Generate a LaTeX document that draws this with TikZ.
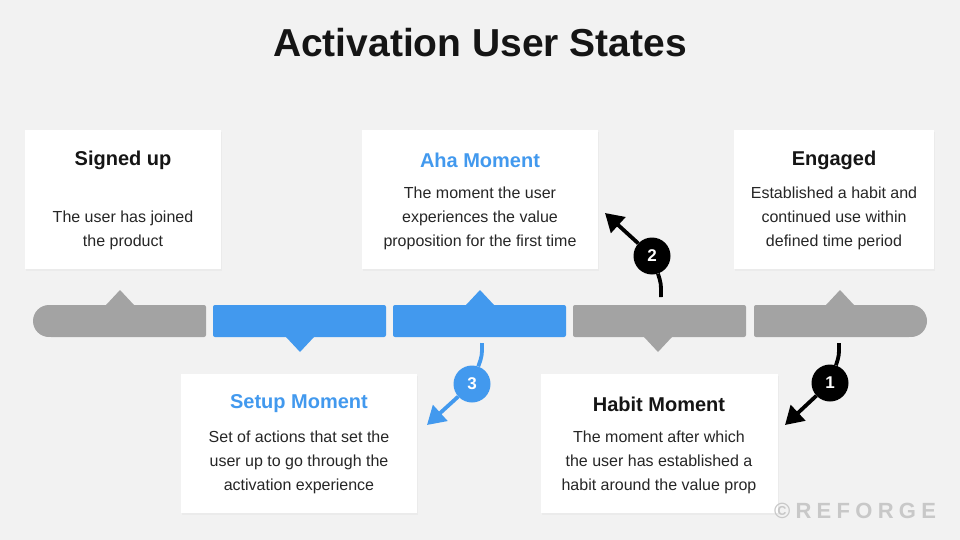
\documentclass[tikz,border=0pt]{standalone}
\usepackage{fontspec}
\setmainfont{Liberation Sans}
\newfontfamily\markfont[LetterSpace=24]{Liberation Sans}
\usetikzlibrary{arrows.meta,positioning,calc,shadows}

\definecolor{bg}{HTML}{F2F2F2}
\definecolor{actblue}{HTML}{4299EE}
\definecolor{bargray}{HTML}{A3A3A3}
\definecolor{darktext}{HTML}{151515}
\definecolor{bodytext}{HTML}{262626}
\definecolor{markgray}{HTML}{C8C8C8}

\begin{document}
\begin{tikzpicture}[x=1pt, y=-1pt,
	card/.style={fill=white, inner sep=0, anchor=north west, minimum width=#1, minimum height=139pt,
		drop shadow={opacity=0.06, shadow xshift=1pt, shadow yshift=-1.5pt}},
	cardtitle/.style={font=\bfseries\fontsize{20}{24}\selectfont, text=darktext, inner sep=0},
	cardtext/.style={font=\fontsize{16}{24}\selectfont, text=bodytext, align=center, inner sep=0},
	badge/.style={circle, fill=#1, text=white, font=\bfseries\fontsize{17}{17}\selectfont, minimum size=37pt, inner sep=0},
	pointer/.style={line width=3.8pt, -{Triangle[length=18pt, width=21pt]}},
]

	%Hintergrund
	\fill[bg] (0,0) rectangle (960,540);
	\useasboundingbox (0,0) rectangle (960,540);

	%Titel
	\node[font=\bfseries\fontsize{39}{44}\selectfont, text=darktext] (title) at (480,43) {Activation User States};

	%Zeitleiste
	\fill[bargray] (49,321) circle (16pt);
	\fill[bargray, rounded corners=2pt] (49,305) rectangle (206,337);
	\fill[bargray] (106,305) -- (120,290) -- (134,305) -- cycle;
	\fill[actblue, rounded corners=2pt] (213,305) rectangle (386,337);
	\fill[actblue] (286,337) -- (300,352) -- (314,337) -- cycle;
	\fill[actblue, rounded corners=2pt] (393,305) rectangle (566,337);
	\fill[actblue] (466,305) -- (480,290) -- (494,305) -- cycle;
	\fill[bargray, rounded corners=2pt] (573,305) rectangle (746,337);
	\fill[bargray] (644,337) -- (658,352) -- (672,337) -- cycle;
	\fill[bargray, rounded corners=2pt] (754,305) rectangle (911,337);
	\fill[bargray] (911,321) circle (16pt);
	\fill[bargray] (826,305) -- (840,290) -- (854,305) -- cycle;

	%Karten oben
	\node[card=196pt] (signed) at (25,130) {};
	\node[cardtitle] (signedT) at (123,160) {Signed up};
	\node[cardtext] (signedB) at (123,230) {The user has joined\\the product};

	\node[card=236pt] (aha) at (362,130) {};
	\node[cardtitle, text=actblue] (ahaT) at (480,160) {Aha Moment};
	\node[cardtext] (ahaB) at (480,218) {The moment the user\\experiences the value\\proposition for the first time};

	\node[card=200pt] (engaged) at (734,130) {};
	\node[cardtitle] (engagedT) at (834,160) {Engaged};
	\node[cardtext] (engagedB) at (834,218) {Established a habit and\\continued use within\\defined time period};

	%Karten unten
	\node[card=236pt] (setup) at (181,374) {};
	\node[cardtitle, text=actblue] (setupT) at (299,404) {Setup Moment};
	\node[cardtext] (setupB) at (299,462) {Set of actions that set the\\user up to go through the\\activation experience};

	\node[card=237pt] (habit) at (541,374) {};
	\node[cardtitle] (habitT) at (659,404) {Habit Moment};
	\node[cardtext] (habitB) at (659,462) {The moment after which\\the user has established a\\habit around the value prop};

	%Schritte
	\node[badge=black] (b1) at (830,383) {1};
	\node[badge=black] (b2) at (652,256) {2};
	\node[badge=actblue] (b3) at (472,384) {3};

	\coordinate (s1) at (839,343);
	\coordinate (t1) at (785,425);
	\coordinate (s2) at (661,297);
	\coordinate (t2) at (605,213);
	\coordinate (s3) at (482,343);
	\coordinate (t3) at (427,425);

	\draw[line width=3.8pt, black] (s1) .. controls (839,356) .. (b1);
	\draw[pointer, black] (b1) -- (t1);
	\draw[line width=3.8pt, black] (s2) .. controls (661,283) .. (b2);
	\draw[pointer, black] (b2) -- (t2);
	\draw[line width=3.8pt, actblue] (s3) .. controls (482,356) .. (b3);
	\draw[pointer, actblue] (b3) -- (t3);

	%Logo
	\node[font=\markfont\bfseries\fontsize{22}{22}\selectfont, text=markgray] (mark) at (855,511) {©REFORGE};

\end{tikzpicture}
\end{document}
